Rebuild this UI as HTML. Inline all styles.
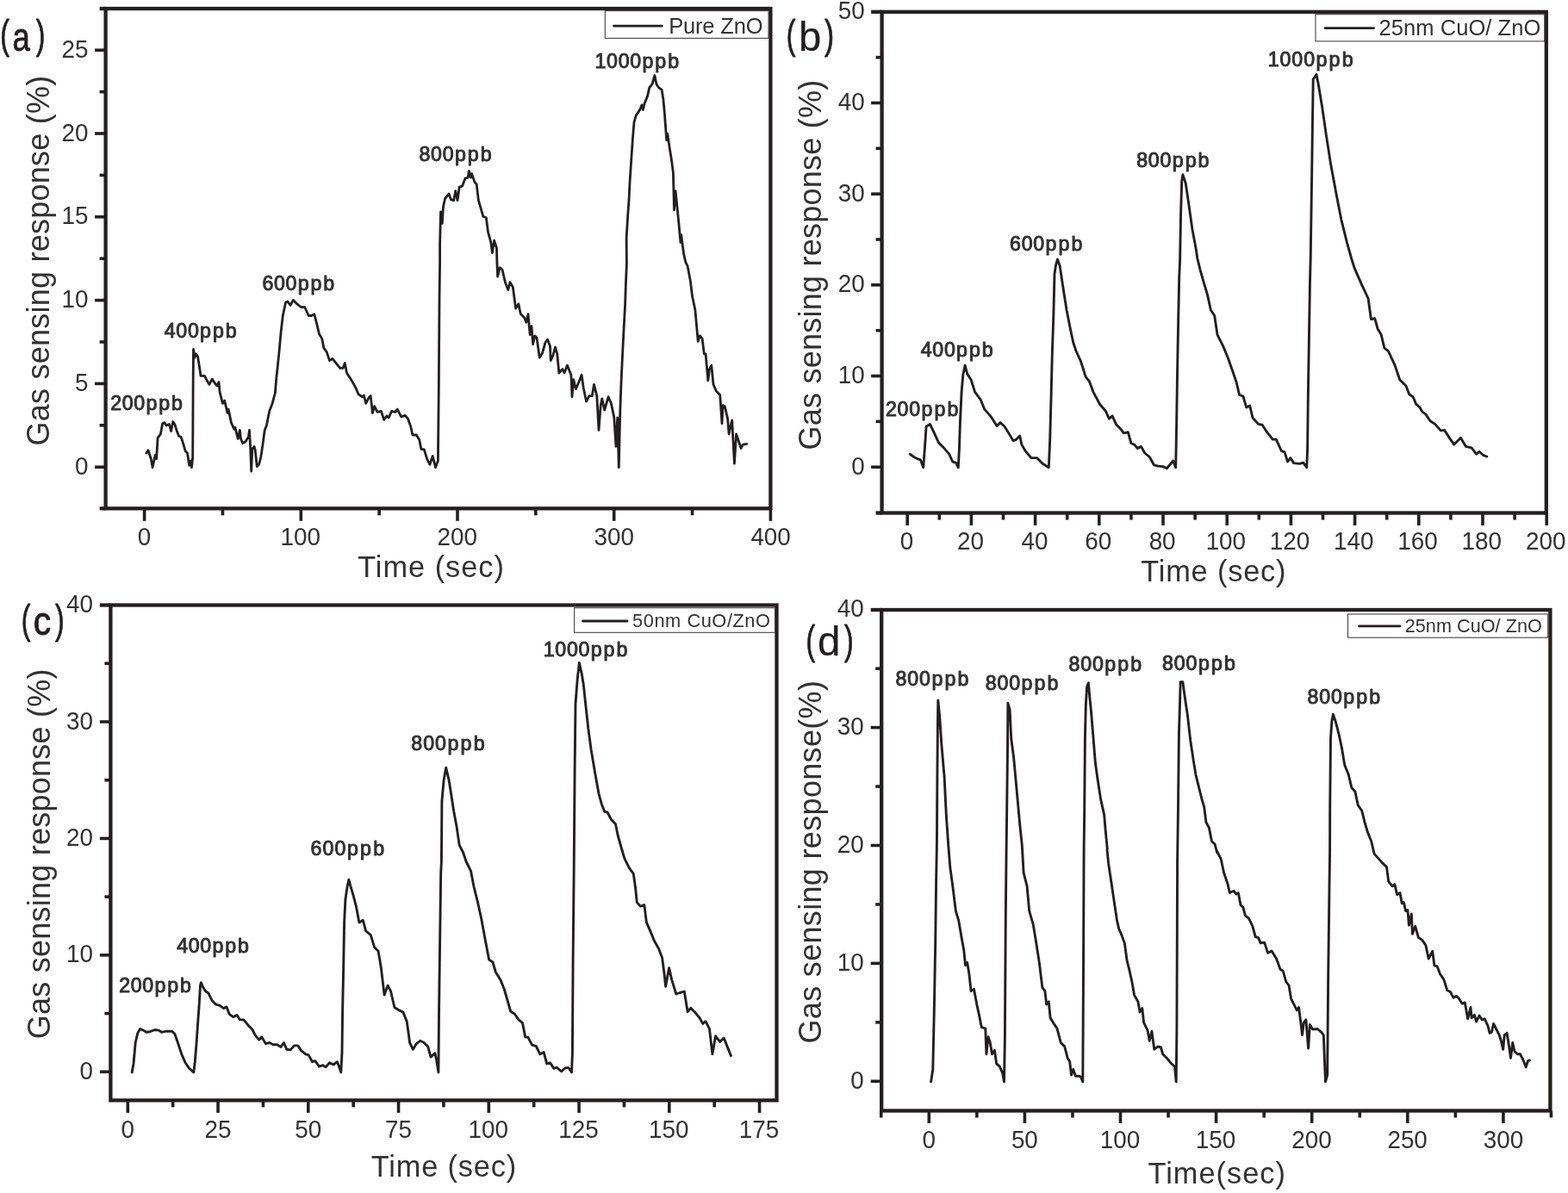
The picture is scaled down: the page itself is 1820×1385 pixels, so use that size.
<!DOCTYPE html>
<html lang="en">
<head>
<meta charset="utf-8">
<title>Gas sensing response</title>
<style>
html,body{margin:0;padding:0;background:#fff;}
body{width:1820px;height:1385px;overflow:hidden;}
svg{display:block;}
text{font-family:"Liberation Sans", Arial, Helvetica, sans-serif;}
</style>
</head>
<body>
<svg width="1820" height="1385" viewBox="0 0 1820 1385">
<rect width="1820" height="1385" fill="#fff"/>
<g stroke="#231f20" fill="none">
<rect x="122.6" y="10" width="771.8" height="580.3" stroke-width="4.3"/>
<line x1="110.1" y1="542.2" x2="122.6" y2="542.2" stroke-width="3.6"/>
<line x1="110.1" y1="445.4" x2="122.6" y2="445.4" stroke-width="3.6"/>
<line x1="110.1" y1="348.6" x2="122.6" y2="348.6" stroke-width="3.6"/>
<line x1="110.1" y1="251.8" x2="122.6" y2="251.8" stroke-width="3.6"/>
<line x1="110.1" y1="155" x2="122.6" y2="155" stroke-width="3.6"/>
<line x1="110.1" y1="58.2" x2="122.6" y2="58.2" stroke-width="3.6"/>
<line x1="115.6" y1="590.3" x2="122.6" y2="590.3" stroke-width="4.3"/>
<line x1="115.6" y1="493.8" x2="122.6" y2="493.8" stroke-width="3.6"/>
<line x1="115.6" y1="397" x2="122.6" y2="397" stroke-width="3.6"/>
<line x1="115.6" y1="300.2" x2="122.6" y2="300.2" stroke-width="3.6"/>
<line x1="115.6" y1="203.4" x2="122.6" y2="203.4" stroke-width="3.6"/>
<line x1="115.6" y1="106.6" x2="122.6" y2="106.6" stroke-width="3.6"/>
<line x1="115.6" y1="10" x2="122.6" y2="10" stroke-width="4.3"/>
<line x1="167.6" y1="590.3" x2="167.6" y2="604.8" stroke-width="3.6"/>
<line x1="349.3" y1="590.3" x2="349.3" y2="604.8" stroke-width="3.6"/>
<line x1="531" y1="590.3" x2="531" y2="604.8" stroke-width="3.6"/>
<line x1="712.7" y1="590.3" x2="712.7" y2="604.8" stroke-width="3.6"/>
<line x1="894.4" y1="590.3" x2="894.4" y2="604.8" stroke-width="3.6"/>
<line x1="258.45" y1="590.3" x2="258.45" y2="598.3" stroke-width="3.6"/>
<line x1="440.15" y1="590.3" x2="440.15" y2="598.3" stroke-width="3.6"/>
<line x1="621.85" y1="590.3" x2="621.85" y2="598.3" stroke-width="3.6"/>
<line x1="803.55" y1="590.3" x2="803.55" y2="598.3" stroke-width="3.6"/>
<polyline points="169.8,526 172,522.7 175.3,532.7 177.1,542.7 178.7,534.9 180.2,528.3 181.6,532.7 183.1,508.3 186.4,503.9 188.6,491.7 190.9,490.6 193.1,493.9 196.4,492.4 198.6,500.6 200.8,489.5 203,492.8 205.3,500.6 207.5,506.1 210.1,507.2 213,516.1 215.2,523.8 217.5,526 219.7,540.4 221.4,534.9 222.5,542.7 223.7,530.5 224.1,450.7 224.5,405.3 225.9,415.2 227.4,410.8 229.6,414.1 231.2,424.1 233,436.3 237.4,436.3 239.6,440.7 242.9,446.3 246.3,440.1 249.6,445.2 251.8,448 254,443.6 255.1,455.1 258.4,468.4 260.7,465.1 264,479.5 265.1,475.1 268.4,490.6 271.7,498.3 272.9,496.1 276.2,509.4 278.4,499.4 279.5,509.4 281.7,514.5 285,512.7 288.4,507.2 289.5,499.4 290.6,518.3 291.7,547.1 292.8,521.6 295,518.3 296.1,521.6 298.3,541.6 300.6,539.3 302.8,530.5 305,516.1 307.2,499.4 309.4,493.9 312.7,477.3 316.1,468.4 319.4,456.2 320.5,441.8 323.8,410.8 326,386.4 328.3,366.5 331.6,351 333.8,349.9 337.1,354.3 340.4,348.3 343.8,352.1 349.3,356.5 353.7,356.5 358.2,366.5 361.5,366.5 364.8,364.7 368.1,377.6 370.4,387.5 373.7,393.1 375.9,404.2 379.2,408.6 382.5,418.6 385.9,416.3 390.3,421.9 394.7,427.4 398.1,427.4 400.3,421.4 402.5,433 406.9,439.6 410.2,445.2 413.6,451.8 415.8,457.3 420.2,460.7 422.4,459.1 424.7,468.4 428,461.8 430.2,459.6 432.4,479.5 434.6,471.7 438,478.4 442.4,477.3 445.7,487.3 449,482.8 451.2,485 454.6,477.3 459,478.4 461.2,475.1 465.7,483.9 470.1,482.2 473.4,486.1 476.7,495 478.9,505 483.4,505 486.7,510.5 488.9,521.6 492.2,521.6 495.6,532.7 498.9,539.3 502.2,529.4 505.5,542.7 508.4,534.9 509.3,448.5 510,348.8 510.6,304.4 510.6,283.7 511.5,246 513.3,259.3 514.4,240.4 516.6,230.5 521.1,224.9 523.3,231.6 526.6,232.7 528.8,221.6 531,232.7 533.2,217.2 536.6,216.1 539.9,207.2 543.2,206.1 544.3,198.3 546.5,206.1 547.6,201.7 551,211.6 553.2,213.9 555.4,232.7 558.7,243.8 560.9,251.5 564.3,252.6 566.5,269.3 569.8,281.4 571.4,293.6 573.6,279.2 576.5,288.1 576.9,304.4 577.6,321.1 580.2,310.6 583.1,313.3 586.4,327.7 589.8,336.6 592,327.7 595.3,333.2 598.6,358.1 601.9,352.7 604.2,364.3 608.6,368.7 610.8,374.2 613,364.7 615.2,388.6 617,378.7 618.6,399.7 620.8,389.8 623,392 626.3,415.2 629.6,409.7 633,397.5 635.6,394.2 638.5,401.9 639.2,418.6 641.8,413 644.5,403 646.7,410.8 648.9,433 652.9,428.5 655.1,433 658.4,424.1 662.9,435.2 664,460.7 665.8,440.7 668.4,451.8 671.7,444 675.1,435.2 677.3,450.7 680.6,466.2 683.9,459.6 687.3,459.6 689.5,446.3 692.8,459.6 695,499.4 697.2,470.6 698.8,462.9 701.7,476.2 706.1,460.7 709.4,468.4 712.7,483.9 715,518.3 716.7,485 718.3,542.7 719.8,477.3 721.2,439.6 722.7,408.6 724.3,377.6 725.6,353.2 726.5,326.6 727.4,306.6 727.1,277 728.7,250.4 730,232.7 731.1,210.5 732.7,186.1 734.5,159.6 736,141.8 738.2,134.1 742.7,127.4 744.9,121.9 746.4,127.4 748.2,119.7 751.5,111.9 753.7,101.9 757.1,97.5 759.9,87.5 761.9,97.5 764.8,101.9 768.1,104.2 769.9,115.2 771.5,133 773.7,162.9 774.8,155.1 777,170.6 779.2,183.9 781.4,200.6 782.5,243.8 784.1,221.6 785.9,239.3 788.1,261.5 789.9,281.4 790.7,272.6 793.6,294.7 795.8,304.4 798.1,308.9 801.4,326.6 803.6,344.3 806.9,359.8 809.1,384.2 810.2,396.4 812.5,389.8 815.1,393.1 817.3,410.8 819.1,410.8 821.8,441.8 823.5,428.5 825.8,424.1 828,446.3 831.3,454 835.7,458.4 838,491.7 839.1,470.6 841.3,471.7 844.6,486.1 846.1,503.9 847.9,495 849.7,487.9 852.4,538.2 854.6,503.9 856.8,510.5 860.1,520.5 862.3,516.1 866.8,515.4" stroke-width="2.8" stroke-linejoin="round" stroke-linecap="round"/>
<rect x="702.3" y="12.6" width="189.7" height="31.8" fill="#fff" stroke="#444" stroke-width="1.1"/>
<line x1="712.5" y1="30.1" x2="768.5" y2="30.1" stroke-width="2.8" stroke-linecap="round"/>
</g>
<g fill="#333232">
<text x="776.16" y="38.8" font-size="25.5" letter-spacing="-0.16">Pure ZnO</text>
<text x="102.49" y="550.8" font-size="29" text-anchor="end" textLength="15.48" lengthAdjust="spacingAndGlyphs">0</text>
<text x="102.57" y="454" font-size="29" text-anchor="end" textLength="15.48" lengthAdjust="spacingAndGlyphs">5</text>
<text x="102.49" y="357.2" font-size="29" text-anchor="end" textLength="30.97" lengthAdjust="spacingAndGlyphs">10</text>
<text x="102.57" y="260.4" font-size="29" text-anchor="end" textLength="30.97" lengthAdjust="spacingAndGlyphs">15</text>
<text x="102.49" y="163.6" font-size="29" text-anchor="end" textLength="30.97" lengthAdjust="spacingAndGlyphs">20</text>
<text x="102.57" y="66.8" font-size="29" text-anchor="end" textLength="30.97" lengthAdjust="spacingAndGlyphs">25</text>
<text x="167.6" y="632.8" font-size="29" text-anchor="middle" textLength="15.48" lengthAdjust="spacingAndGlyphs">0</text>
<text x="348.78" y="632.8" font-size="29" text-anchor="middle" textLength="46.45" lengthAdjust="spacingAndGlyphs">100</text>
<text x="530.84" y="632.8" font-size="29" text-anchor="middle" textLength="46.45" lengthAdjust="spacingAndGlyphs">200</text>
<text x="712.71" y="632.8" font-size="29" text-anchor="middle" textLength="46.45" lengthAdjust="spacingAndGlyphs">300</text>
<text x="894.62" y="632.8" font-size="29" text-anchor="middle" textLength="46.45" lengthAdjust="spacingAndGlyphs">400</text>
<text transform="translate(56.6,516) rotate(-90)" x="-1.56" font-size="36" letter-spacing="0.24">Gas sensing response (%)</text>
<text x="415.18" y="669.6" font-size="34.3" letter-spacing="1.01">Time (sec)</text>
<text x="128.25 141.78 155.3 169.47 184.27 199.06" y="476.2" font-size="23.2" stroke="#333232" stroke-width="1" stroke-linejoin="round">200ppb</text>
<text x="190.8 204.36 217.92 232.11 246.94 261.76" y="392" font-size="23.2" stroke="#333232" stroke-width="1" stroke-linejoin="round">400ppb</text>
<text x="304.4 317.94 331.48 345.65 360.46 375.26" y="336.6" font-size="23.2" stroke="#333232" stroke-width="1" stroke-linejoin="round">600ppb</text>
<text x="486.51 500.11 513.71 527.94 542.8 557.66" y="187.3" font-size="23.2" stroke="#333232" stroke-width="1" stroke-linejoin="round">800ppb</text>
<text x="690.49 704.07 717.66 731.24 745.46 760.31 775.16" y="78.7" font-size="23.2" stroke="#333232" stroke-width="1" stroke-linejoin="round">1000ppb</text>
<text fill="#231f20" stroke="#231f20" stroke-linejoin="round"><tspan x="0.26" y="56.47" font-size="46.05" stroke-width="0.9" textLength="10.68" lengthAdjust="spacingAndGlyphs">(</tspan><tspan x="14.4" y="58.7" font-size="46" stroke-width="0.9" textLength="20.35" lengthAdjust="spacingAndGlyphs">a</tspan><tspan x="41.76" y="56.47" font-size="46.05" stroke-width="0.9" textLength="10.68" lengthAdjust="spacingAndGlyphs">)</tspan></text>
</g>
<g stroke="#231f20" fill="none">
<rect x="1023.6" y="13.8" width="771.2" height="581.7" stroke-width="4.3"/>
<line x1="1011.1" y1="542.2" x2="1023.6" y2="542.2" stroke-width="3.6"/>
<line x1="1011.1" y1="436.52" x2="1023.6" y2="436.52" stroke-width="3.6"/>
<line x1="1011.1" y1="330.84" x2="1023.6" y2="330.84" stroke-width="3.6"/>
<line x1="1011.1" y1="225.16" x2="1023.6" y2="225.16" stroke-width="3.6"/>
<line x1="1011.1" y1="119.48" x2="1023.6" y2="119.48" stroke-width="3.6"/>
<line x1="1011.1" y1="13.8" x2="1023.6" y2="13.8" stroke-width="4.3"/>
<line x1="1016.6" y1="595.5" x2="1023.6" y2="595.5" stroke-width="4.3"/>
<line x1="1016.6" y1="489.36" x2="1023.6" y2="489.36" stroke-width="3.6"/>
<line x1="1016.6" y1="383.68" x2="1023.6" y2="383.68" stroke-width="3.6"/>
<line x1="1016.6" y1="278" x2="1023.6" y2="278" stroke-width="3.6"/>
<line x1="1016.6" y1="172.32" x2="1023.6" y2="172.32" stroke-width="3.6"/>
<line x1="1016.6" y1="66.64" x2="1023.6" y2="66.64" stroke-width="3.6"/>
<line x1="1053.2" y1="595.5" x2="1053.2" y2="610" stroke-width="3.6"/>
<line x1="1127.4" y1="595.5" x2="1127.4" y2="610" stroke-width="3.6"/>
<line x1="1201.6" y1="595.5" x2="1201.6" y2="610" stroke-width="3.6"/>
<line x1="1275.8" y1="595.5" x2="1275.8" y2="610" stroke-width="3.6"/>
<line x1="1350" y1="595.5" x2="1350" y2="610" stroke-width="3.6"/>
<line x1="1424.2" y1="595.5" x2="1424.2" y2="610" stroke-width="3.6"/>
<line x1="1498.4" y1="595.5" x2="1498.4" y2="610" stroke-width="3.6"/>
<line x1="1572.6" y1="595.5" x2="1572.6" y2="610" stroke-width="3.6"/>
<line x1="1646.8" y1="595.5" x2="1646.8" y2="610" stroke-width="3.6"/>
<line x1="1721" y1="595.5" x2="1721" y2="610" stroke-width="3.6"/>
<line x1="1795.2" y1="595.5" x2="1795.2" y2="610" stroke-width="3.6"/>
<line x1="1090.3" y1="595.5" x2="1090.3" y2="603.5" stroke-width="3.6"/>
<line x1="1164.5" y1="595.5" x2="1164.5" y2="603.5" stroke-width="3.6"/>
<line x1="1238.7" y1="595.5" x2="1238.7" y2="603.5" stroke-width="3.6"/>
<line x1="1312.9" y1="595.5" x2="1312.9" y2="603.5" stroke-width="3.6"/>
<line x1="1387.1" y1="595.5" x2="1387.1" y2="603.5" stroke-width="3.6"/>
<line x1="1461.3" y1="595.5" x2="1461.3" y2="603.5" stroke-width="3.6"/>
<line x1="1535.5" y1="595.5" x2="1535.5" y2="603.5" stroke-width="3.6"/>
<line x1="1609.7" y1="595.5" x2="1609.7" y2="603.5" stroke-width="3.6"/>
<line x1="1683.9" y1="595.5" x2="1683.9" y2="603.5" stroke-width="3.6"/>
<line x1="1758.1" y1="595.5" x2="1758.1" y2="603.5" stroke-width="3.6"/>
<polyline points="1056.2,527.1 1060.7,530.5 1065.1,532.7 1068.4,533.8 1071.7,542.7 1073.3,521.6 1075.1,495 1079.5,492.4 1083.9,501.7 1089.5,513.9 1095,519.4 1101.7,527.1 1105.7,536 1109.4,537.1 1112.3,542.7 1113.4,521.6 1114.5,488.4 1116.1,455.1 1117.8,435.2 1120.1,424.1 1122.7,434.1 1127.1,440.7 1131.6,455.1 1138.2,464 1142.7,475.1 1150.4,483.9 1157.1,494.6 1161.1,490.6 1165.9,495 1171.5,503.9 1175.9,511.6 1179.2,510.5 1183.7,506.1 1185.9,516.1 1190.3,523.8 1197,531.6 1203.6,531.6 1210.2,538.2 1217.3,542.7 1218.7,510.5 1220.2,455.1 1221.3,410.8 1222.9,364.3 1224,317.7 1225.8,306.6 1227.5,301.1 1230.2,308.9 1233.5,331 1238,359.8 1242.4,382 1245.7,397.5 1249,407.5 1254.6,419.7 1260.1,437.4 1264.5,442.9 1269,455.1 1276.7,469.5 1283.4,477.3 1287.4,486.1 1291.1,482.8 1295.6,492.8 1300,497.2 1304.4,502.8 1309.3,501.7 1312.9,514.5 1316.6,516.1 1320.4,520.5 1324.4,518.3 1328.8,526 1334.3,530.5 1339.4,539.8 1344.3,541.1 1349.9,541.6 1354.3,543.8 1358.1,539.3 1361.6,534.9 1364.7,542.7 1365.6,495 1366.5,435.2 1367.6,375.3 1368.7,322.2 1369.6,302.2 1370.6,248.2 1371.7,210.5 1372.9,202.8 1376.2,212.7 1379.5,234.9 1383.9,265.9 1388.4,290.3 1389.8,300 1393.1,313.3 1397.5,328.8 1401.5,342.1 1405.3,359.8 1409.7,366.5 1413,388.6 1419.7,401.9 1425.2,415.2 1430.7,430.7 1435.2,444 1438.5,458.4 1442.9,460 1446.7,472.9 1450.7,471.1 1454,485 1460.7,492.4 1465.1,493.2 1470.6,501.7 1477.3,510.1 1481.3,510.1 1487.3,523.4 1491,524.9 1494.6,536 1497.9,531.6 1501.7,537.6 1508.3,538.4 1512.7,537.1 1516.7,542.7 1517.6,521.6 1518.3,461.8 1519.4,393.1 1520.5,326.6 1521.2,300 1521.8,261.5 1522.7,199.4 1523.5,139.6 1524.2,92 1528,86.4 1530.2,97.5 1534.6,124.1 1539.1,155.1 1544.6,190.6 1551.2,226 1556.8,254.8 1563.4,281.4 1568.6,300 1572.1,311.1 1580.3,329.9 1588.1,346.5 1591.4,370.5 1595.8,369.8 1599.2,382 1603.2,388.6 1606.9,404.2 1611.4,407.5 1619.1,424.1 1624.7,440.7 1632,448 1635.7,457.8 1640.2,460.7 1643.5,468.9 1647.9,472.9 1651.2,478.4 1654.6,480.6 1660.1,488.8 1665.7,492.4 1672.3,499.9 1676.7,499.4 1682.3,508.3 1687.8,516.1 1695.5,508.3 1701.4,518.3 1708.1,519.8 1713.6,527.1 1717,524.3 1721.4,528.3 1725.8,530" stroke-width="2.9" stroke-linejoin="round" stroke-linecap="round"/>
<rect x="1527" y="16.7" width="265.7" height="31.2" fill="#fff" stroke="#444" stroke-width="1.1"/>
<line x1="1538" y1="32.6" x2="1594.5" y2="32.6" stroke-width="2.8" stroke-linecap="round"/>
</g>
<g fill="#333232">
<text x="1600.57" y="41.2" font-size="25.5" letter-spacing="0.05">25nm CuO/ ZnO</text>
<text x="1003.69" y="550.8" font-size="29" text-anchor="end" textLength="15.48" lengthAdjust="spacingAndGlyphs">0</text>
<text x="1003.69" y="445.12" font-size="29" text-anchor="end" textLength="30.97" lengthAdjust="spacingAndGlyphs">10</text>
<text x="1003.69" y="339.44" font-size="29" text-anchor="end" textLength="30.97" lengthAdjust="spacingAndGlyphs">20</text>
<text x="1003.69" y="233.76" font-size="29" text-anchor="end" textLength="30.97" lengthAdjust="spacingAndGlyphs">30</text>
<text x="1003.69" y="128.08" font-size="29" text-anchor="end" textLength="30.97" lengthAdjust="spacingAndGlyphs">40</text>
<text x="1003.69" y="22.4" font-size="29" text-anchor="end" textLength="30.97" lengthAdjust="spacingAndGlyphs">50</text>
<text x="1052.4" y="637.9" font-size="29" text-anchor="middle" textLength="15.48" lengthAdjust="spacingAndGlyphs">0</text>
<text x="1126.44" y="637.9" font-size="29" text-anchor="middle" textLength="30.97" lengthAdjust="spacingAndGlyphs">20</text>
<text x="1201.02" y="637.9" font-size="29" text-anchor="middle" textLength="30.97" lengthAdjust="spacingAndGlyphs">40</text>
<text x="1274.84" y="637.9" font-size="29" text-anchor="middle" textLength="30.97" lengthAdjust="spacingAndGlyphs">60</text>
<text x="1349.14" y="637.9" font-size="29" text-anchor="middle" textLength="30.97" lengthAdjust="spacingAndGlyphs">80</text>
<text x="1422.88" y="637.9" font-size="29" text-anchor="middle" textLength="46.45" lengthAdjust="spacingAndGlyphs">100</text>
<text x="1497.08" y="637.9" font-size="29" text-anchor="middle" textLength="46.45" lengthAdjust="spacingAndGlyphs">120</text>
<text x="1571.28" y="637.9" font-size="29" text-anchor="middle" textLength="46.45" lengthAdjust="spacingAndGlyphs">140</text>
<text x="1645.48" y="637.9" font-size="29" text-anchor="middle" textLength="46.45" lengthAdjust="spacingAndGlyphs">160</text>
<text x="1719.68" y="637.9" font-size="29" text-anchor="middle" textLength="46.45" lengthAdjust="spacingAndGlyphs">180</text>
<text x="1794.24" y="637.9" font-size="29" text-anchor="middle" textLength="46.45" lengthAdjust="spacingAndGlyphs">200</text>
<text transform="translate(952.5,521) rotate(-90)" x="-1.56" font-size="36" letter-spacing="0.24">Gas sensing response (%)</text>
<text x="1324.18" y="675" font-size="34.3" letter-spacing="0.85">Time (sec)</text>
<text x="1027.95 1041.62 1055.28 1069.59 1084.53 1099.46" y="482.8" font-size="23.2" stroke="#333232" stroke-width="1" stroke-linejoin="round">200ppb</text>
<text x="1068.8 1082.36 1095.92 1110.11 1124.94 1139.76" y="414.1" font-size="23.2" stroke="#333232" stroke-width="1" stroke-linejoin="round">400ppb</text>
<text x="1172 1185.66 1199.32 1213.61 1228.54 1243.46" y="291.4" font-size="23.2" stroke="#333232" stroke-width="1" stroke-linejoin="round">600ppb</text>
<text x="1319.21 1332.85 1346.49 1360.76 1375.66 1390.56" y="193.9" font-size="23.2" stroke="#333232" stroke-width="1" stroke-linejoin="round">800ppb</text>
<text x="1471.79 1485.57 1499.36 1513.14 1527.56 1542.61 1557.66" y="76.5" font-size="23.2" stroke="#333232" stroke-width="1" stroke-linejoin="round">1000ppb</text>
<text fill="#231f20" stroke="#231f20" stroke-linejoin="round"><tspan x="912.76" y="56.47" font-size="46.05" stroke-width="0.9" textLength="10.68" lengthAdjust="spacingAndGlyphs">(</tspan><tspan x="927.05" y="58.73" font-size="48.07" stroke-width="0.2" textLength="26.34" lengthAdjust="spacingAndGlyphs">b</tspan><tspan x="956.96" y="56.47" font-size="46.05" stroke-width="0.9" textLength="11.05" lengthAdjust="spacingAndGlyphs">)</tspan></text>
</g>
<g stroke="#231f20" fill="none">
<rect x="128.4" y="702.5" width="773.1" height="574.9" stroke-width="4.3"/>
<line x1="115.9" y1="1244.3" x2="128.4" y2="1244.3" stroke-width="3.6"/>
<line x1="115.9" y1="1108.85" x2="128.4" y2="1108.85" stroke-width="3.6"/>
<line x1="115.9" y1="973.4" x2="128.4" y2="973.4" stroke-width="3.6"/>
<line x1="115.9" y1="837.95" x2="128.4" y2="837.95" stroke-width="3.6"/>
<line x1="115.9" y1="702.5" x2="128.4" y2="702.5" stroke-width="4.3"/>
<line x1="121.4" y1="1176.58" x2="128.4" y2="1176.58" stroke-width="3.6"/>
<line x1="121.4" y1="1041.12" x2="128.4" y2="1041.12" stroke-width="3.6"/>
<line x1="121.4" y1="905.67" x2="128.4" y2="905.67" stroke-width="3.6"/>
<line x1="121.4" y1="770.22" x2="128.4" y2="770.22" stroke-width="3.6"/>
<line x1="148.3" y1="1277.4" x2="148.3" y2="1291.9" stroke-width="3.6"/>
<line x1="253.05" y1="1277.4" x2="253.05" y2="1291.9" stroke-width="3.6"/>
<line x1="357.8" y1="1277.4" x2="357.8" y2="1291.9" stroke-width="3.6"/>
<line x1="462.55" y1="1277.4" x2="462.55" y2="1291.9" stroke-width="3.6"/>
<line x1="567.3" y1="1277.4" x2="567.3" y2="1291.9" stroke-width="3.6"/>
<line x1="672.05" y1="1277.4" x2="672.05" y2="1291.9" stroke-width="3.6"/>
<line x1="776.8" y1="1277.4" x2="776.8" y2="1291.9" stroke-width="3.6"/>
<line x1="881.55" y1="1277.4" x2="881.55" y2="1291.9" stroke-width="3.6"/>
<line x1="200.68" y1="1277.4" x2="200.68" y2="1285.4" stroke-width="3.6"/>
<line x1="305.43" y1="1277.4" x2="305.43" y2="1285.4" stroke-width="3.6"/>
<line x1="410.18" y1="1277.4" x2="410.18" y2="1285.4" stroke-width="3.6"/>
<line x1="514.93" y1="1277.4" x2="514.93" y2="1285.4" stroke-width="3.6"/>
<line x1="619.68" y1="1277.4" x2="619.68" y2="1285.4" stroke-width="3.6"/>
<line x1="724.42" y1="1277.4" x2="724.42" y2="1285.4" stroke-width="3.6"/>
<line x1="829.18" y1="1277.4" x2="829.18" y2="1285.4" stroke-width="3.6"/>
<polyline points="153.2,1244.9 155,1234.9 157.2,1210.5 159.8,1199.4 162.5,1194.6 166.5,1196.1 169.8,1198.3 174.2,1197.7 179.8,1195.5 184.2,1196.1 187.5,1198.3 193.1,1197.2 199.7,1197.2 203,1200.6 206.4,1210.5 210.8,1223.8 215.2,1233.8 219.7,1240.4 224.8,1244.9 226.3,1232.7 228.1,1210.5 229.6,1188.4 231.2,1166.2 232.5,1144 233.4,1140.7 235.2,1145.2 238.5,1150.7 241.8,1152.9 246.3,1161.8 250.7,1166.2 255.1,1167.3 259.6,1170.6 262.9,1168.9 266.2,1177.3 270.6,1180.6 275.1,1178.4 278.4,1183.9 282.8,1183.9 288.4,1190.6 292.8,1195 296.1,1201.7 300.6,1207.2 303.9,1203.9 308.3,1211.6 312.7,1210.5 317.2,1212.7 321.6,1212.7 326,1215.4 329.4,1210.5 332.7,1218.3 337.1,1218.9 341.6,1213.9 346,1213.9 349.3,1219.4 354.8,1223.8 358.2,1224.9 362.6,1232.7 365.9,1231.6 370.4,1238.2 374.8,1236.7 378.1,1238.9 382.5,1233.8 387,1236 391.4,1232.7 393.6,1238.2 395.8,1244.9 397,1221.6 397.6,1172.9 398.7,1121.9 399.6,1070.9 400.9,1044.3 403.2,1028.8 404.9,1021.1 406.9,1028.8 410.2,1039.9 413.6,1053.2 416.9,1070.9 421.3,1068.3 424.7,1080.9 430.2,1085.3 434.6,1099.7 439.1,1104.2 442.4,1124.1 446.1,1155.1 450.1,1144 453.5,1150.7 457.9,1169.5 463.4,1172.9 467.9,1175.1 472.3,1186.1 475.6,1210.5 479.4,1218.3 483.4,1211.6 487.8,1208.3 492.2,1210.5 496.7,1215 500,1227.1 504.9,1222.7 506.6,1230.5 508.9,1244.9 509.5,1177.3 510.6,1095.3 511.7,1013.3 512.4,1000 512.9,930.1 515.1,905.7 517.7,891.3 521.1,905.7 523.9,923.5 526.6,941.2 529.9,958.9 533.2,981.1 537.7,990 541,1000 546.5,1011.1 549.9,1028.8 554.3,1046.5 558.7,1066.5 563.2,1090.9 567.6,1114.1 572,1117 575.3,1128.5 580.9,1137.4 585.3,1148.5 589.8,1164 592.6,1174 597.5,1177.3 601.9,1183.9 606.4,1187.3 609.7,1203.9 613,1204.3 617.5,1213.2 622.3,1214.5 626.8,1223.8 631.2,1221.6 634.7,1234.9 638.5,1233.8 642.9,1240.4 646.3,1239.3 651.8,1243.8 656.2,1239.8 660,1239.8 663.5,1244.9 664.4,1223.8 665.1,1115.2 666.2,1006.6 667.1,894.7 668,817.1 670.2,788.3 672.4,769.5 675.1,781.6 677.3,794.9 679.9,819.3 682.8,845.9 686.1,870.3 690.6,896.9 695,921.3 698.3,933.4 701.7,942.3 705,943 709.4,951.2 714.5,956.7 717.2,970 721.6,985.5 724.9,996.6 730.5,1007.8 735.3,1014.4 737.6,1031 739.3,1047.6 743.3,1052.1 747.8,1050.5 750.4,1070.9 754.8,1080.9 759.3,1092 764.8,1101.9 768.6,1111.9 770.8,1128.5 772.6,1145.2 776.6,1123.7 779.7,1137.4 784.8,1154 789.2,1152.5 794.3,1151.1 798.1,1174.6 801.8,1170.2 806.9,1175.5 812,1181.7 815.8,1188.4 819.1,1185.7 823.5,1194.6 826.9,1223.8 830.6,1202.8 835.7,1209.4 840.2,1205 844.6,1216.1 848.4,1225.6" stroke-width="2.9" stroke-linejoin="round" stroke-linecap="round"/>
<rect x="666.6" y="705.7" width="232.9" height="28.6" fill="#fff" stroke="#444" stroke-width="1.1"/>
<line x1="676.5" y1="721" x2="728" y2="721" stroke-width="2.8" stroke-linecap="round"/>
</g>
<g fill="#333232">
<text x="734.08" y="728.1" font-size="21.8" letter-spacing="0.55">50nm CuO/ZnO</text>
<text x="108.09" y="1252.9" font-size="29" text-anchor="end" textLength="15.48" lengthAdjust="spacingAndGlyphs">0</text>
<text x="108.09" y="1117.45" font-size="29" text-anchor="end" textLength="30.97" lengthAdjust="spacingAndGlyphs">10</text>
<text x="108.09" y="982" font-size="29" text-anchor="end" textLength="30.97" lengthAdjust="spacingAndGlyphs">20</text>
<text x="108.09" y="846.55" font-size="29" text-anchor="end" textLength="30.97" lengthAdjust="spacingAndGlyphs">30</text>
<text x="108.09" y="711.1" font-size="29" text-anchor="end" textLength="30.97" lengthAdjust="spacingAndGlyphs">40</text>
<text x="148.3" y="1320.5" font-size="29" text-anchor="middle" textLength="15.48" lengthAdjust="spacingAndGlyphs">0</text>
<text x="252.93" y="1320.5" font-size="29" text-anchor="middle" textLength="30.97" lengthAdjust="spacingAndGlyphs">25</text>
<text x="357.79" y="1320.5" font-size="29" text-anchor="middle" textLength="30.97" lengthAdjust="spacingAndGlyphs">50</text>
<text x="462.42" y="1320.5" font-size="29" text-anchor="middle" textLength="30.97" lengthAdjust="spacingAndGlyphs">75</text>
<text x="566.78" y="1320.5" font-size="29" text-anchor="middle" textLength="46.45" lengthAdjust="spacingAndGlyphs">100</text>
<text x="671.57" y="1320.5" font-size="29" text-anchor="middle" textLength="46.45" lengthAdjust="spacingAndGlyphs">125</text>
<text x="776.28" y="1320.5" font-size="29" text-anchor="middle" textLength="46.45" lengthAdjust="spacingAndGlyphs">150</text>
<text x="881.07" y="1320.5" font-size="29" text-anchor="middle" textLength="46.45" lengthAdjust="spacingAndGlyphs">175</text>
<text transform="translate(57.7,1204.7) rotate(-90)" x="-1.56" font-size="36" letter-spacing="0.24">Gas sensing response (%)</text>
<text x="430.78" y="1366.2" font-size="34.3" letter-spacing="0.85">Time (sec)</text>
<text x="138.25 151.78 165.3 179.47 194.27 209.06" y="1151.8" font-size="23.2" stroke="#333232" stroke-width="1" stroke-linejoin="round">200ppb</text>
<text x="205.2 218.72 232.24 246.39 261.18 275.96" y="1106.4" font-size="23.2" stroke="#333232" stroke-width="1" stroke-linejoin="round">400ppb</text>
<text x="360.6 374.5 388.4 402.93 418.1 433.26" y="993.2" font-size="23.2" stroke="#333232" stroke-width="1" stroke-linejoin="round">600ppb</text>
<text x="477.31 491.15 504.99 519.46 534.56 549.66" y="871.4" font-size="23.2" stroke="#333232" stroke-width="1" stroke-linejoin="round">800ppb</text>
<text x="630.69 644.29 657.89 671.49 685.73 700.6 715.46" y="762.2" font-size="23.2" stroke="#333232" stroke-width="1" stroke-linejoin="round">1000ppb</text>
<text fill="#231f20" stroke="#231f20" stroke-linejoin="round"><tspan x="24.86" y="734.77" font-size="47.01" stroke-width="0.9" textLength="10.68" lengthAdjust="spacingAndGlyphs">(</tspan><tspan x="38.72" y="736.6" font-size="46.55" stroke-width="0.9" textLength="20.41" lengthAdjust="spacingAndGlyphs">c</tspan><tspan x="63.96" y="734.77" font-size="47.01" stroke-width="0.9" textLength="10.68" lengthAdjust="spacingAndGlyphs">)</tspan></text>
</g>
<g stroke="#231f20" fill="none">
<rect x="1023.2" y="708" width="776.2" height="581.5" stroke-width="4.3"/>
<line x1="1010.7" y1="1255.3" x2="1023.2" y2="1255.3" stroke-width="3.6"/>
<line x1="1010.7" y1="1118.4" x2="1023.2" y2="1118.4" stroke-width="3.6"/>
<line x1="1010.7" y1="981.5" x2="1023.2" y2="981.5" stroke-width="3.6"/>
<line x1="1010.7" y1="844.6" x2="1023.2" y2="844.6" stroke-width="3.6"/>
<line x1="1010.7" y1="708" x2="1023.2" y2="708" stroke-width="4.3"/>
<line x1="1016.2" y1="1186.85" x2="1023.2" y2="1186.85" stroke-width="3.6"/>
<line x1="1016.2" y1="1049.95" x2="1023.2" y2="1049.95" stroke-width="3.6"/>
<line x1="1016.2" y1="913.05" x2="1023.2" y2="913.05" stroke-width="3.6"/>
<line x1="1016.2" y1="776.15" x2="1023.2" y2="776.15" stroke-width="3.6"/>
<line x1="1078.3" y1="1289.5" x2="1078.3" y2="1304" stroke-width="3.6"/>
<line x1="1189.4" y1="1289.5" x2="1189.4" y2="1304" stroke-width="3.6"/>
<line x1="1300.5" y1="1289.5" x2="1300.5" y2="1304" stroke-width="3.6"/>
<line x1="1411.6" y1="1289.5" x2="1411.6" y2="1304" stroke-width="3.6"/>
<line x1="1522.7" y1="1289.5" x2="1522.7" y2="1304" stroke-width="3.6"/>
<line x1="1633.8" y1="1289.5" x2="1633.8" y2="1304" stroke-width="3.6"/>
<line x1="1744.9" y1="1289.5" x2="1744.9" y2="1304" stroke-width="3.6"/>
<line x1="1022.75" y1="1289.5" x2="1022.75" y2="1297.5" stroke-width="3.6"/>
<line x1="1133.85" y1="1289.5" x2="1133.85" y2="1297.5" stroke-width="3.6"/>
<line x1="1244.95" y1="1289.5" x2="1244.95" y2="1297.5" stroke-width="3.6"/>
<line x1="1356.05" y1="1289.5" x2="1356.05" y2="1297.5" stroke-width="3.6"/>
<line x1="1467.15" y1="1289.5" x2="1467.15" y2="1297.5" stroke-width="3.6"/>
<line x1="1578.25" y1="1289.5" x2="1578.25" y2="1297.5" stroke-width="3.6"/>
<line x1="1689.35" y1="1289.5" x2="1689.35" y2="1297.5" stroke-width="3.6"/>
<line x1="1800.45" y1="1289.5" x2="1800.45" y2="1297.5" stroke-width="3.6"/>
<polyline points="1080.6,1255.9 1082.8,1241.5 1084.4,1168.4 1085.7,1095.2 1086.6,1024.3 1087.3,986.6 1087.5,968.1 1087.9,901.6 1088.4,846.2 1088.8,813 1090.6,830.7 1092.8,863.9 1096.1,901.6 1098.3,945.9 1100.6,979.2 1102.8,1006.6 1106.1,1031 1109.4,1057.6 1112.7,1068.6 1116.1,1088.6 1118.9,1104.1 1120.5,1120.7 1122.7,1117.4 1124.9,1130.7 1127.1,1150.6 1130.5,1148.4 1133.8,1166.1 1136.7,1179.4 1139.3,1192.7 1143.8,1193.9 1144.9,1223.8 1147.1,1203.8 1149.3,1210.5 1151.5,1223.8 1154.4,1219.3 1156.6,1234.8 1160.4,1238.2 1163.7,1245.9 1165.5,1255.9 1166.4,1203.8 1167.3,1064.2 1168.1,986.6 1168.6,948.1 1169.5,870.6 1169.9,816.3 1172.1,824 1173.7,857.3 1176.6,879.4 1179.7,912.7 1183.7,957 1186.3,981.4 1188.1,1013.2 1192.1,1028.8 1194.7,1057.6 1199.2,1073.1 1202.5,1093 1206.3,1117.4 1209.8,1146.2 1212.9,1150.6 1214.7,1166.1 1217.3,1162.8 1219.1,1181.7 1223.1,1188.3 1226.9,1193.9 1231.3,1210.5 1235.7,1214.9 1239.1,1228.2 1241.7,1232.6 1243.5,1248.1 1245.7,1241.5 1248.4,1249.3 1252.4,1249.3 1254.6,1250.4 1256.8,1255.9 1257.5,1128.5 1258.1,986.6 1258.7,941.2 1259.4,858.1 1260.3,819.3 1261.6,797.2 1263.4,792.7 1264.7,808.2 1266.5,826 1268.7,852.6 1271.4,885.8 1274.2,905.7 1277.6,927.9 1281.6,945.6 1283.1,963.4 1285.3,985.5 1285,986.6 1286.6,1002.2 1289.9,1024.3 1293.2,1046.5 1296.5,1068.6 1298.8,1078.6 1301.4,1084.2 1305.4,1095.2 1308.1,1115.2 1310.9,1126.3 1314.3,1141.8 1316.5,1155.1 1320.9,1162.8 1323.1,1175 1325.8,1170.6 1327.6,1187.2 1332,1196.1 1334.2,1208.3 1336.9,1197.2 1339.8,1218.2 1344.2,1214.9 1347.5,1216 1349.7,1223.8 1354.2,1228.2 1358.6,1233.7 1363.5,1238.2 1365.2,1255.9 1365.9,1195 1366.6,999.9 1367.5,936.8 1368.4,852.6 1369.5,817.1 1370.2,791.6 1372.9,791.6 1375.1,808.2 1378.4,830.4 1381.7,859.2 1385,881.4 1387.9,899.1 1391.7,914.6 1395,927.9 1397.7,936.8 1399.9,954.5 1403.4,961.1 1406.5,976.7 1410.1,980 1412.7,990 1411.8,986.6 1417.3,997.7 1420.6,1013.2 1425.1,1026.5 1427.3,1036.5 1432.2,1034.3 1435,1038.1 1437.3,1036.5 1440.1,1050.9 1442.8,1053.1 1445.5,1063.1 1449.4,1066 1453.9,1075.3 1457.2,1087.5 1460.5,1088.6 1463.2,1094.8 1467.6,1094.1 1471.6,1106.3 1476,1104.1 1481.6,1113 1486,1125.2 1489.3,1127.4 1492.7,1139.6 1496,1144 1498.6,1159.5 1502.6,1167.3 1505.3,1172.8 1507.5,1169.5 1509.7,1186.1 1511.5,1201.6 1513.3,1187.2 1515.9,1183.9 1518.6,1217.1 1520.4,1189.4 1523.7,1195 1529.2,1194.5 1533.7,1198.3 1536.3,1201.6 1537.6,1234.8 1538.5,1255.9 1540.7,1248.1 1541.6,1139.6 1543,1028.8 1543.6,988.9 1543.7,941.2 1544.5,857 1545.9,837 1547.4,829.3 1550.7,839.3 1554.1,852.6 1557.4,868.1 1560.7,888 1565.2,899.1 1568.9,914.6 1572.9,919 1576.2,934.6 1580.7,941.2 1584,954.5 1587.3,965.6 1591.7,976.7 1595.1,991.1 1603.9,1001.1 1609.5,1006.6 1611.7,1023.3 1616.1,1028.8 1618.8,1026.6 1621.7,1038.8 1625,1036.6 1627.2,1048.8 1629.4,1047.6 1631.6,1057.6 1633.9,1056.5 1635.4,1074.2 1638.3,1060.9 1639.4,1084.2 1642.7,1075.3 1646.5,1088.6 1650.5,1090.9 1654.9,1097.5 1658.2,1113 1662.7,1104.2 1664.9,1120.8 1668.2,1121.9 1671.5,1130.7 1676,1137.4 1679.7,1149.6 1683.7,1151.8 1687,1158.4 1690.4,1156.2 1693.7,1159.6 1697,1165.1 1700.3,1164 1703.7,1182.8 1707,1169.5 1708.1,1181.7 1711.4,1178.4 1713.6,1186.1 1717,1179.1 1720.3,1183.9 1723.2,1182.8 1726.9,1190.6 1729.1,1199.4 1731.4,1198.3 1733.6,1188.4 1736.9,1195 1740.2,1201.7 1742.4,1208.3 1744.7,1218.3 1746.2,1201.7 1749.1,1199.4 1751.3,1212.7 1753.5,1228.3 1755.7,1210.5 1758,1220.5 1761.3,1223.8 1764.6,1223.8 1767.9,1230.5 1771.2,1238.9 1773.5,1231.6 1775.7,1230.9" stroke-width="2.9" stroke-linejoin="round" stroke-linecap="round"/>
<rect x="1564.5" y="713" width="232.2" height="27.2" fill="#fff" stroke="#444" stroke-width="1.1"/>
<line x1="1577.5" y1="726.9" x2="1625" y2="726.9" stroke-width="2.8" stroke-linecap="round"/>
</g>
<g fill="#333232">
<text x="1630.76" y="734" font-size="21.6" letter-spacing="0.05">25nm CuO/ ZnO</text>
<text x="1002.79" y="1263.9" font-size="29" text-anchor="end" textLength="15.48" lengthAdjust="spacingAndGlyphs">0</text>
<text x="1002.79" y="1127" font-size="29" text-anchor="end" textLength="30.97" lengthAdjust="spacingAndGlyphs">10</text>
<text x="1002.79" y="990.1" font-size="29" text-anchor="end" textLength="30.97" lengthAdjust="spacingAndGlyphs">20</text>
<text x="1002.79" y="853.2" font-size="29" text-anchor="end" textLength="30.97" lengthAdjust="spacingAndGlyphs">30</text>
<text x="1002.79" y="716.3" font-size="29" text-anchor="end" textLength="30.97" lengthAdjust="spacingAndGlyphs">40</text>
<text x="1078.3" y="1332.7" font-size="29" text-anchor="middle" textLength="15.48" lengthAdjust="spacingAndGlyphs">0</text>
<text x="1189.39" y="1332.7" font-size="29" text-anchor="middle" textLength="30.97" lengthAdjust="spacingAndGlyphs">50</text>
<text x="1299.98" y="1332.7" font-size="29" text-anchor="middle" textLength="46.45" lengthAdjust="spacingAndGlyphs">100</text>
<text x="1411.08" y="1332.7" font-size="29" text-anchor="middle" textLength="46.45" lengthAdjust="spacingAndGlyphs">150</text>
<text x="1522.54" y="1332.7" font-size="29" text-anchor="middle" textLength="46.45" lengthAdjust="spacingAndGlyphs">200</text>
<text x="1633.64" y="1332.7" font-size="29" text-anchor="middle" textLength="46.45" lengthAdjust="spacingAndGlyphs">250</text>
<text x="1744.91" y="1332.7" font-size="29" text-anchor="middle" textLength="46.45" lengthAdjust="spacingAndGlyphs">300</text>
<text transform="translate(952.5,1210) rotate(-90)" x="-1.56" font-size="36" letter-spacing="0.33">Gas sensing response(%)</text>
<text x="1332.48" y="1373.7" font-size="34.3" letter-spacing="1.03">Time(sec)</text>
<text x="1039.51 1053.27 1067.03 1081.42 1096.44 1111.46" y="796.3" font-size="23.2" stroke="#333232" stroke-width="1" stroke-linejoin="round">800ppb</text>
<text x="1143.71 1157.45 1171.19 1185.56 1200.56 1215.56" y="800.8" font-size="23.2" stroke="#333232" stroke-width="1" stroke-linejoin="round">800ppb</text>
<text x="1240.51 1254.25 1267.99 1282.36 1297.36 1312.36" y="779.4" font-size="23.2" stroke="#333232" stroke-width="1" stroke-linejoin="round">800ppb</text>
<text x="1349.11 1362.85 1376.59 1390.96 1405.96 1420.96" y="778.3" font-size="23.2" stroke="#333232" stroke-width="1" stroke-linejoin="round">800ppb</text>
<text x="1517.51 1531.25 1544.99 1559.36 1574.36 1589.36" y="817.1" font-size="23.2" stroke="#333232" stroke-width="1" stroke-linejoin="round">800ppb</text>
<text fill="#231f20" stroke="#231f20" stroke-linejoin="round"><tspan x="935.46" y="759.12" font-size="46.26" stroke-width="0.9" textLength="10.68" lengthAdjust="spacingAndGlyphs">(</tspan><tspan x="949" y="761.13" font-size="48.34" stroke-width="0.2" textLength="26.47" lengthAdjust="spacingAndGlyphs">d</tspan><tspan x="979.96" y="759.12" font-size="46.26" stroke-width="0.9" textLength="10.68" lengthAdjust="spacingAndGlyphs">)</tspan></text>
</g>
</svg>
</body>
</html>
